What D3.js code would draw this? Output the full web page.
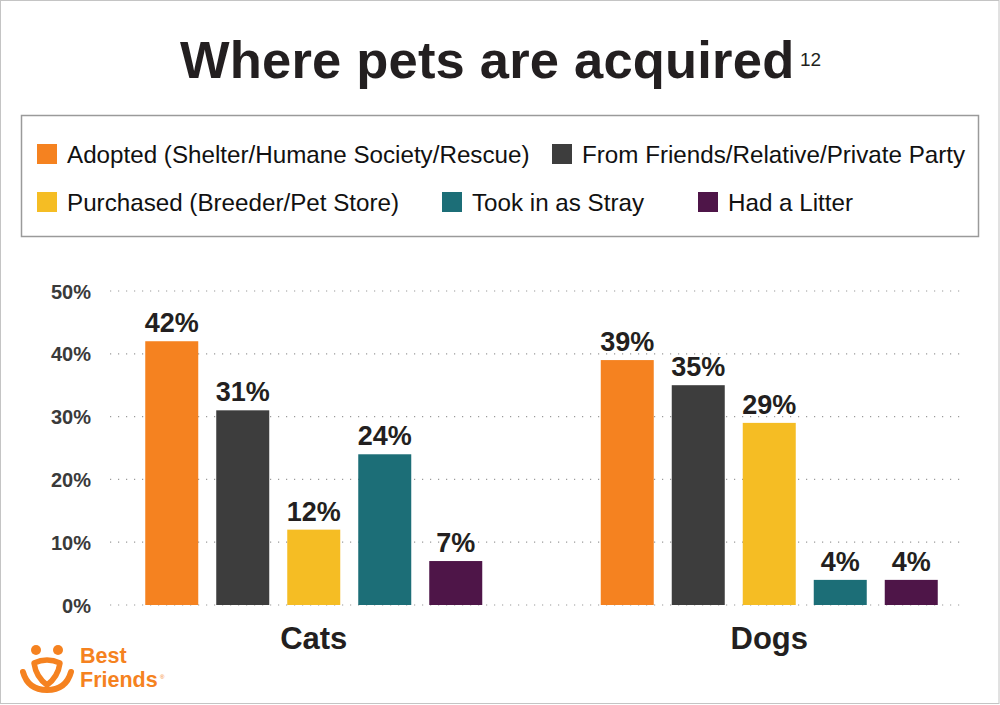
<!DOCTYPE html>
<html>
<head>
<meta charset="utf-8">
<script src="https://cdn.jsdelivr.net/npm/d3@7"></script>
<style>
  html, body { margin: 0; padding: 0; background: #fff; }
  svg { display: block; }
  text { font-family: "Liberation Sans", Arial, Helvetica, sans-serif; }
</style>
</head>
<body>
<svg id="chart" width="1000" height="705"></svg>
<script>
// ---- data ----
const groups = ["Cats", "Dogs"];
const series = [
  "Adopted (Shelter/Humane Society/Rescue)",
  "From Friends/Relative/Private Party",
  "Purchased (Breeder/Pet Store)",
  "Took in as Stray",
  "Had a Litter"
];
const catsValues = [42, 31, 12, 24, 7];
const dogsValues = [39, 35, 29, 4, 4];
const colors = ["#F58220", "#3D3D3D", "#F5BD24", "#1C6E77", "#4E1548"];
const yTicks = [0, 10, 20, 30, 40, 50];

const values = { Cats: catsValues, Dogs: dogsValues };

const svg = d3.select("#chart");
const W = 1000, H = 705;

// outer border
svg.append("rect").attr("x", 0.5).attr("y", 0.5).attr("width", W - 1.5).attr("height", H - 2)
  .attr("fill", "#fff").attr("stroke", "#c4c4c4").attr("stroke-width", 1);

// title
svg.append("text").attr("x", 180).attr("y", 78)
  .attr("font-size", 52.5).attr("font-weight", "bold").attr("fill", "#231f20")
  .attr("letter-spacing", 0.2)
  .text("Where pets are acquired");
svg.append("text").attr("x", 800).attr("y", 66)
  .attr("font-size", 19).attr("fill", "#231f20").text("12");

// legend box
svg.append("rect").attr("x", 21.5).attr("y", 115.5).attr("width", 957).attr("height", 121)
  .attr("fill", "none").attr("stroke", "#9a9a9a").attr("stroke-width", 1.5);

const legendPos = [
  { x: 37, y: 144 }, { x: 552, y: 144 },
  { x: 37, y: 192 }, { x: 442, y: 192 }, { x: 698, y: 192 }
];
const lg = svg.append("g").selectAll("g").data(series).join("g")
  .attr("transform", (d, i) => `translate(${legendPos[i].x},${legendPos[i].y})`);
lg.append("rect").attr("width", 20).attr("height", 20).attr("fill", (d, i) => colors[i]);
lg.append("text").attr("x", 30).attr("y", 19).attr("font-size", 24.2).attr("fill", "#111")
  .text(d => d);

// scales
const y = d3.scaleLinear().domain([0, 50]).range([605, 291]);
const x0 = d3.scaleBand().domain(groups).range([86, 997]).paddingInner(0).paddingOuter(0);
const x1 = d3.scaleBand().domain(series).range([0, 337]).paddingInner(18 / 71).paddingOuter(0);

// gridlines
const grid = svg.append("g");
grid.selectAll("line").data(yTicks).join("line")
  .attr("x1", 110).attr("x2", 962)
  .attr("y1", d => y(d)).attr("y2", d => y(d))
  .attr("stroke", "#9a9a9a").attr("stroke-width", 1.2)
  .attr("stroke-dasharray", "1.2 6.8");

// y axis
const yAxis = d3.axisLeft(y).tickValues(yTicks).tickFormat(d => d + "%").tickSize(0).tickPadding(0);
const ya = svg.append("g").attr("transform", "translate(91,0)").call(yAxis);
ya.select(".domain").remove();
ya.selectAll("text").attr("font-size", 20).attr("font-weight", "bold").attr("fill", "#3a3a3a")
  .attr("font-family", "'Liberation Sans', Arial, sans-serif").attr("dy", "0.35em");

// bars
const gg = svg.append("g").selectAll("g").data(groups).join("g")
  .attr("transform", g => `translate(${x0(g) + x0.bandwidth() / 2 - 168.5},0)`);
gg.selectAll("rect").data(g => values[g].map((v, i) => ({ v, s: series[i], i })))
  .join("rect")
  .attr("x", d => x1(d.s)).attr("width", x1.bandwidth())
  .attr("y", d => y(d.v)).attr("height", d => y(0) - y(d.v))
  .attr("fill", d => colors[d.i]);
gg.selectAll("text.val").data(g => values[g].map((v, i) => ({ v, s: series[i], i })))
  .join("text").attr("class", "val")
  .attr("x", d => x1(d.s) + x1.bandwidth() / 2).attr("y", d => y(d.v) - 9)
  .attr("text-anchor", "middle").attr("font-size", 27).attr("font-weight", "bold")
  .attr("fill", "#231f20").text(d => d.v + "%");

// x axis category labels
const xAxis = d3.axisBottom(x0).tickSize(0).tickPadding(0);
const xa = svg.append("g").attr("transform", "translate(0,627)").call(xAxis);
xa.select(".domain").remove();
xa.selectAll("text").attr("font-size", 31).attr("font-weight", "bold").attr("fill", "#231f20")
  .attr("font-family", "'Liberation Sans', Arial, sans-serif").attr("dy", "0.71em");

// logo
const orange = "#F58220";
const logo = svg.append("g");
logo.append("circle").attr("cx", 36).attr("cy", 650).attr("r", 5).attr("fill", orange);
logo.append("circle").attr("cx", 58).attr("cy", 650).attr("r", 5).attr("fill", orange);
logo.append("path")
  .attr("d", "M23,672 Q28,690 47,690 Q66,690 71,672")
  .attr("fill", "none").attr("stroke", orange).attr("stroke-width", 6).attr("stroke-linecap", "round");
logo.append("path")
  .attr("d", "M34,663 Q47,657 60,663 Q58,677 47,685 Q36,677 34,663 Z")
  .attr("fill", "#fff").attr("stroke", orange).attr("stroke-width", 5.5).attr("stroke-linejoin", "round");
logo.append("text").attr("x", 80).attr("y", 663).attr("font-size", 21.5).attr("font-weight", "bold")
  .attr("fill", orange).text("Best");
logo.append("text").attr("x", 80).attr("y", 687).attr("font-size", 21.5).attr("font-weight", "bold")
  .attr("fill", orange).text("Friends");
logo.append("text").attr("x", 160).attr("y", 679).attr("font-size", 6).attr("fill", orange).text("®");
</script>
</body>
</html>
